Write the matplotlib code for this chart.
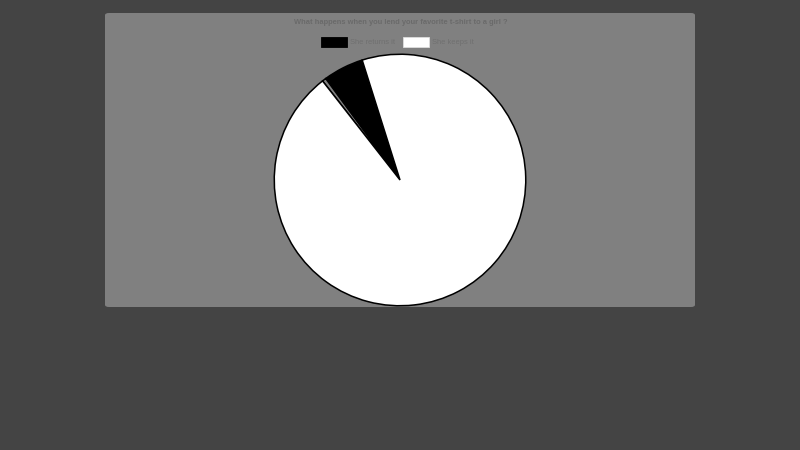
import matplotlib
matplotlib.use("Agg")
import matplotlib.pyplot as plt
from matplotlib.patches import FancyBboxPatch, Rectangle

title = "What happens when you lend your favorite t-shirt to a girl ?"
labels = ["She returns it", "", "She keeps it"]
values = [5.2, 0.5, 94.3]
colors = ["#000000", "#808080", "#ffffff"]

W, H = 800, 450
fig = plt.figure(figsize=(8, 4.5), dpi=100, facecolor="#444444")

# panel (behind the axes)
panel = FancyBboxPatch((105 / W, 1 - 307 / H), 590 / W, 294 / H,
                       boxstyle="round,pad=0,rounding_size=0.005",
                       transform=fig.transFigure, facecolor="#808080",
                       edgecolor="none", zorder=-1)
fig.patches.append(panel)

fig.text(400.5 / W, 1 - 22 / H, title, ha="center", va="center",
         fontsize=5.45, fontweight="bold", color="#6a6a6a",
         family="Liberation Sans")

# legend
legend_items = [(321, labels[0], colors[0]), (403, labels[2], colors[2])]
for x0, lab, col in legend_items:
    fig.patches.append(Rectangle((x0 / W, 1 - 46.5 / H), 26 / W, 9 / H,
                                 transform=fig.transFigure, facecolor=col,
                                 edgecolor="#dddddd" if col == "#ffffff" else "#000000",
                                 linewidth=0.6, zorder=2))
    fig.text((x0 + 29) / W, 1 - 42.5 / H, lab, ha="left", va="center",
             fontsize=5.4, color="#707070", family="Liberation Sans")

# pie
cx, cy, r = 400, 180, 127
ax = fig.add_axes([(cx - r) / W, 1 - (cy + r) / H, 2 * r / W, 2 * r / H])
ax.pie(values, colors=colors, startangle=107.5, counterclock=True,
       wedgeprops={"edgecolor": "#000000", "linewidth": 1.1})
ax.set_xlim(-1.01, 1.01)
ax.set_ylim(-1.01, 1.01)
ax.set_aspect("equal")
ax.axis("off")

fig.savefig("out.png", dpi=100, facecolor=fig.get_facecolor())
